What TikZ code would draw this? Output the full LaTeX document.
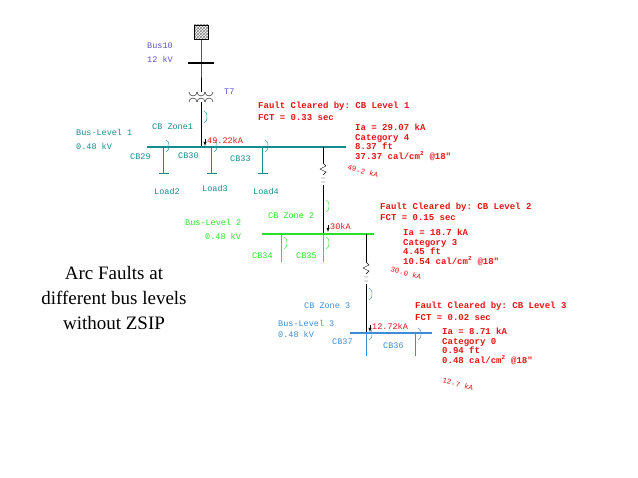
\documentclass[tikz,border=0pt]{standalone}
\usepackage{fontspec}
\setmainfont{Liberation Serif}
\setmonofont{Liberation Mono}
\usetikzlibrary{arrows, positioning, shapes, patterns}
\definecolor{busteal}{RGB}{20,140,140}
\definecolor{busgreen}{RGB}{40,225,40}
\definecolor{busblue}{RGB}{60,140,215}
\definecolor{busviolet}{RGB}{90,80,200}
\definecolor{faultred}{RGB}{230,20,20}
\tikzset{
	>=stealth',
	% text styles
	lbl/.style={font=\ttfamily\fontsize{8.5}{9}\selectfont, inner sep=0, anchor=west},
	flt/.style={font=\ttfamily\bfseries\fontsize{9}{9.5}\selectfont, text=faultred, inner sep=0, anchor=west},
	ka/.style={font=\ttfamily\fontsize{7.5}{8}\selectfont, text=faultred, inner sep=0, rotate=-15},
	bus/.style={line width=1.6pt},
	cb/.style={thin}
}
\newcommand{\brk}[2]{\draw[cb] (#1+3,#2-6) arc (90:-90:3 and 6);}
\newcommand{\fuse}[2]{\draw[thin] (#1,#2) -- (#1+3,#2+3) -- (#1-3,#2+6) -- (#1+3,#2+9) -- (#1,#2+12)
  (#1-2,#2+15) -- (#1+2,#2+15) (#1-2,#2+19) -- (#1+2,#2+19);}
\begin{document}
\begin{tikzpicture}[x=1pt, y=-1pt]
\useasboundingbox (0,0) rectangle (638,478);

% source and transformer
\node[draw, pattern=crosshatch, pattern color=gray, minimum size=14pt, inner sep=0] (src) at (201,32) {};
\coordinate (b10) at (201,63);
\draw[line width=1.5pt] (188,63) -- (214,63);
\draw (src) -- (b10) -- (201,92);
\foreach \k in {0,1,2} {
	\draw (189+8*\k,92) arc (180:0:4 and 4);
	\draw (189+8*\k,102) arc (180:360:4 and 4);
}
\draw (201,102) -- (201,147);
\node[lbl, text=busviolet] (bus10) at (147,46) {Bus10};
\node[lbl, text=busviolet] (kv10) at (147,59) {12 kV};
\node[lbl, text=busviolet] (t7) at (224,92) {T7};

% level 1
\draw[bus, busteal] (147,147) coordinate (bus1w) -- (346,147) coordinate (bus1e);
\begin{scope}[busteal]
\brk{201}{129}
\node[lbl] (cbz1) at (152,127) {CB Zone1};
\node[lbl] (bl1) at (76,132) {Bus-Level 1};
\node[lbl] (kv1) at (76,146) {0.48 kV};
\foreach \x/\c/\l/\ly in {163/CB29/Load2/191, 211/CB30/Load3/188, 262/CB33/Load4/191} {
	\draw (\x,147) -- (\x,173) (\x-4,173) -- (\x+6,173);
	\brk{\x}{158}
	\node[lbl, anchor=center] at (\x+4,\ly) {\l};
}
\node[lbl] (cb29) at (130,157) {CB29};
\node[lbl] (cb30) at (178,156) {CB30};
\node[lbl] (cb33) at (230,159) {CB33};
\end{scope}
\draw[->, >=latex] (205,139) -- (205,146);
\node[lbl, text=faultred] (i1) at (207,140) {49.22kA};
\draw (323,147) -- (323,163);
\fuse{323}{163}
\draw (323,185) -- (323,234);
\node[ka] (k1) at (363,171) {49.2 kA};
\node[flt] (fc1) at (258,106) {Fault Cleared by: CB Level 1};
\node[flt] (fct1) at (258,118) {FCT = 0.33 sec};
\node[flt, align=left, anchor=north west, font=\ttfamily\bfseries\fontsize{9}{9.5}\selectfont] (r1) at (355,124) {Ia = 29.07 kA\\Category 4\\8.37 ft\\37.37 cal/cm\textsuperscript{2} @18"};

% level 2
\draw[bus, busgreen] (262,234) -- (374,234);
\begin{scope}[busgreen]
\brk{323}{218}
\node[lbl] (cbz2) at (268,216) {CB Zone 2};
\node[lbl] (bl2) at (185,222) {Bus-Level 2};
\node[lbl] (kv2) at (205,236) {0.48 kV};
\foreach \x in {281, 323} {
	\draw (\x,234) -- (\x,262);
	\brk{\x}{255}
}
\node[lbl] (cb34) at (252,256) {CB34};
\node[lbl] (cb35) at (296,256) {CB35};
\end{scope}
\draw[->, >=latex] (328,225) -- (328,232);
\node[lbl, text=faultred] (i2) at (330,226) {30kA};
\draw (366,234) -- (366,262);
\fuse{366}{262}
\draw (366,284) -- (366,333);
\node[ka] (k2) at (406,273) {30.0 kA};
\node[flt] (fc2) at (380,207) {Fault Cleared by: CB Level 2};
\node[flt] (fct2) at (380,218) {FCT = 0.15 sec};
\node[flt, align=left, anchor=north west, font=\ttfamily\bfseries\fontsize{9}{9.5}\selectfont] (r2) at (403,229) {Ia = 18.7 kA\\Category 3\\4.45 ft\\10.54 cal/cm\textsuperscript{2} @18"};

% level 3
\draw[bus, busblue] (350,333) -- (432,333);
\begin{scope}[busblue]
\brk{366}{306}
\node[lbl] (cbz3) at (304,306) {CB Zone 3};
\node[lbl] (bl3) at (278,323) {Bus-Level 3};
\node[lbl] (kv3) at (278,334) {0.48 kV};
\foreach \x in {366, 415} {
	\draw (\x,333) -- (\x,356);
	\brk{\x}{346}
}
\node[lbl] (cb37) at (332,342) {CB37};
\node[lbl] (cb36) at (383,346) {CB36};
\end{scope}
\draw[->, >=latex] (370,325) -- (370,332);
\node[lbl, text=faultred] (i3) at (372,326) {12.72kA};
\node[ka] (k3) at (458,384) {12.7 kA};
\node[flt] (fc3) at (415,306) {Fault Cleared by: CB Level 3};
\node[flt] (fct3) at (415,318) {FCT = 0.02  sec};
\node[flt, align=left, anchor=north west, font=\ttfamily\bfseries\fontsize{9}{9.5}\selectfont] (r3) at (442,328) {Ia = 8.71 kA\\Category 0\\0.94 ft\\0.48 cal/cm\textsuperscript{2} @18"};

% caption
\node[align=center, font=\fontsize{19}{25}\selectfont] (cap) at (114,298) {Arc Faults at\\different bus levels\\without ZSIP};
\end{tikzpicture}
\end{document}
